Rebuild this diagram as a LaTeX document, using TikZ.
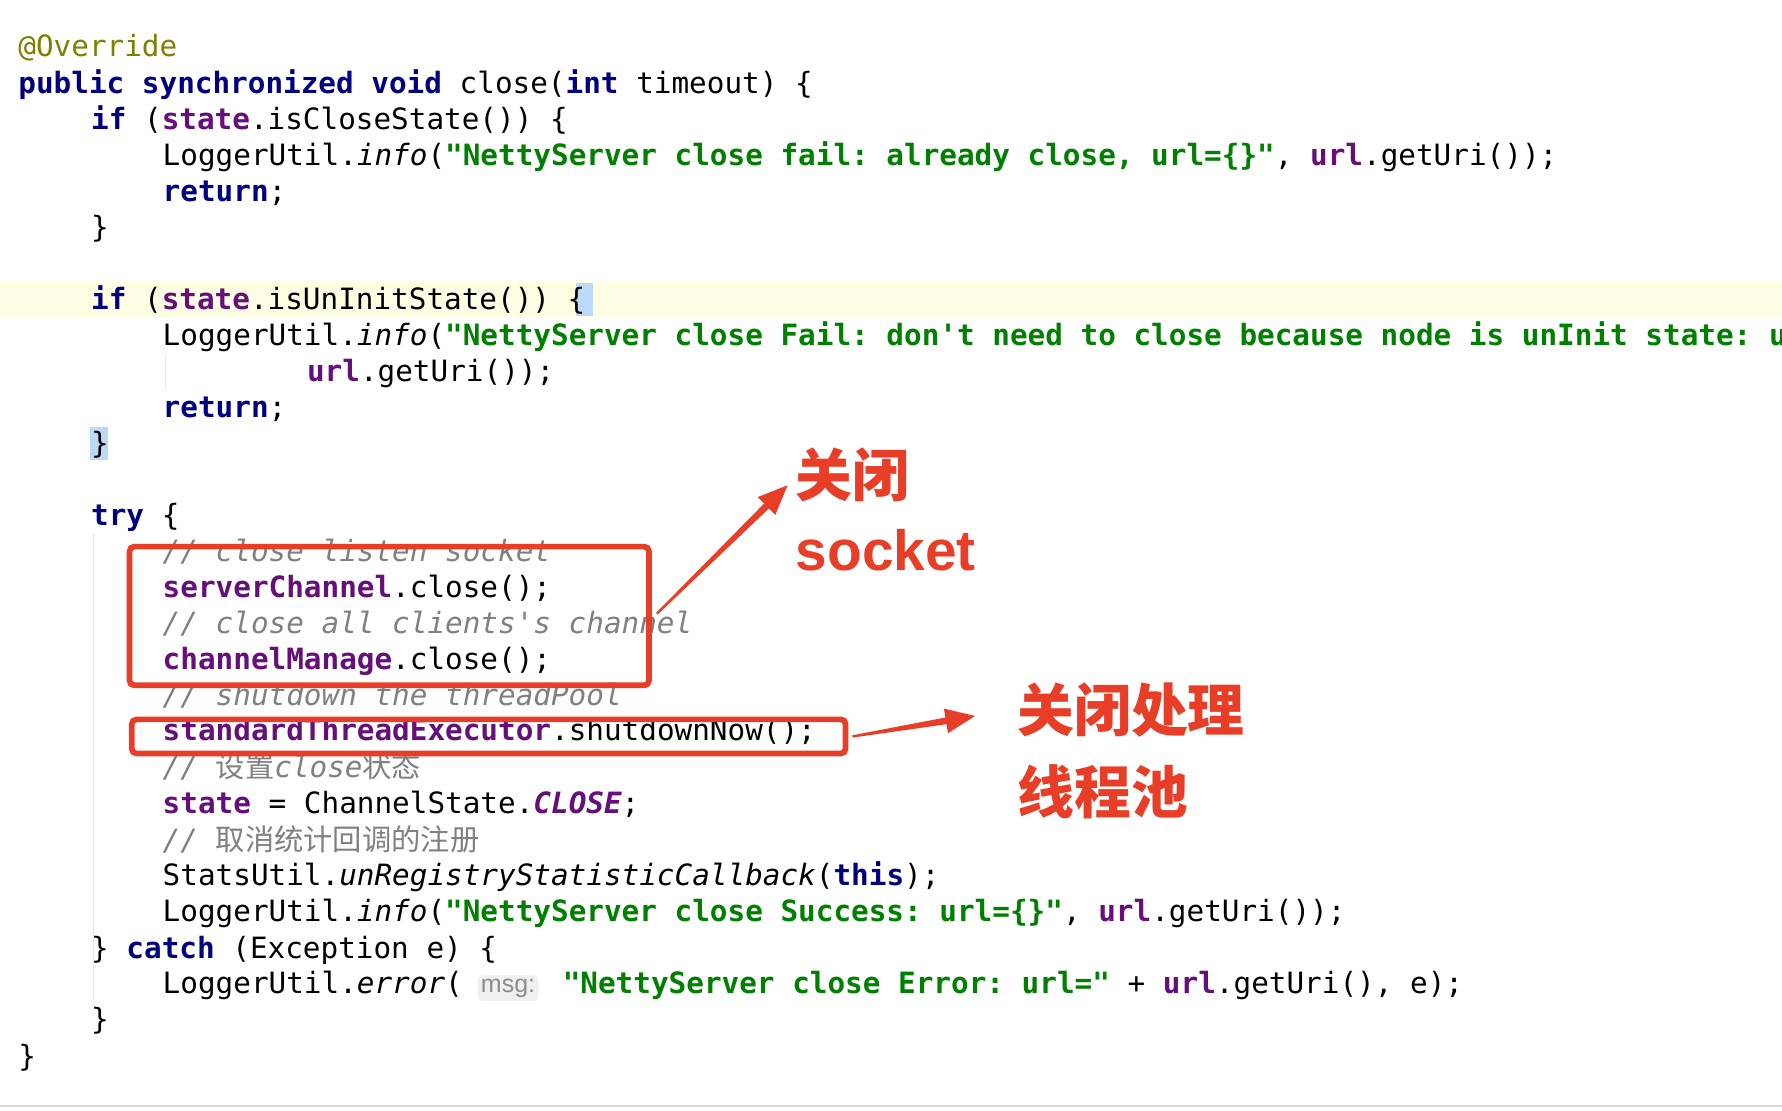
\documentclass[tikz,border=0pt]{standalone}
\usepackage{fontspec}
\setmonofont{DejaVu Sans Mono}
\newfontfamily\cjk{Noto Sans CJK SC}
\newfontfamily\lsans{Liberation Sans}
\usetikzlibrary{calc}
\definecolor{kw}{RGB}{0,0,128}
\definecolor{fld}{RGB}{102,14,122}
\definecolor{str}{RGB}{0,128,0}
\definecolor{cmt}{RGB}{128,128,128}
\definecolor{ann}{RGB}{128,128,0}
\definecolor{redmk}{RGB}{232,62,40}
\definecolor{hl}{RGB}{255,252,228}
\definecolor{brc}{RGB}{188,218,245}
\newcommand{\K}[1]{{\bfseries\color{kw}#1}}
\newcommand{\F}[1]{{\bfseries\color{fld}#1}}
\newcommand{\St}[1]{{\bfseries\color{str}#1}}
\newcommand{\C}[1]{{\itshape\color{cmt}#1}}
\newcommand{\I}[1]{{\itshape #1}}
\tikzset{code/.style={anchor=base west,inner sep=0pt,font=\ttfamily\fontsize{25.8}{30}\selectfont},
 redbox/.style={draw=redmk,line width=5pt,rounded corners=4pt},
 lab/.style={anchor=base west,inner sep=0pt,text=redmk},
 hint/.style={anchor=base west,fill=black!6,rounded corners=4pt,inner sep=3pt,text=black!45,font=\lsans\fontsize{22}{24}\selectfont}}
\begin{document}
\begin{tikzpicture}[x=1pt,y=-1pt]
\useasboundingbox (0,0) rectangle (1568,977);
\clip (0,0) rectangle (1568,977);
\fill[white] (0,0) rectangle (1568,977);
\fill[hl] (0,248) rectangle (1568,279);
\fill[brc] (507,249) rectangle (522,278);
\fill[brc] (79,376) rectangle (95,405);
\draw[black!10,line width=1pt] (82,470) -- (82,880);
\draw[black!10,line width=1pt] (146,312) -- (146,342);
\draw[black!15,line width=1.5pt] (0,973) -- (1568,973);
\def\b{9}
\node[code] (l1) at (16,41+\b) {{\color{ann}@Override}};
\node[code] (l2) at (16,73+\b) {\K{public synchronized void} close(\K{int} timeout) \{};
\node[code] (l3) at (80,105+\b) {\K{if} (\F{state}.isCloseState()) \{};
\node[code] (l4) at (143,137+\b) {LoggerUtil.\I{info}(\St{"NettyServer close fail: already close, url=\{\}"}, \F{url}.getUri());};
\node[code] (l5) at (143,168+\b) {\K{return};};
\node[code] (l6) at (80,200+\b) {\}};
\node[code] (l7) at (80,263+\b) {\K{if} (\F{state}.isUnInitState()) \{};
\node[code] (l8) at (143,295+\b) {LoggerUtil.\I{info}(\St{"NettyServer close Fail: don't need to close because node is unInit state: url=\{\}"},};
\node[code] (l9) at (270,327+\b) {\F{url}.getUri());};
\node[code] (l10) at (143,358+\b) {\K{return};};
\node[code] (l11) at (80,390+\b) {\}};
\node[code] (l12) at (80,453+\b) {\K{try} \{};
\node[code] (l13) at (143,485+\b) {\C{// close listen socket}};
\node[code] (l14) at (143,517+\b) {\F{serverChannel}.close();};
\node[code] (l15) at (143,548+\b) {\C{// close all clients's channel}};
\node[code] (l16) at (143,580+\b) {\F{channelManage}.close();};
\node[code] (l17) at (143,612+\b) {\C{// shutdown the threadPool}};
\node[code] (l18) at (143,643+\b) {\F{standardThreadExecutor}.shutdownNow();};
\node[code] (l19) at (143,675+\b) {\C{// {\cjk\upshape 设置}close{\cjk\upshape 状态}}};
\node[code] (l20) at (143,707+\b) {\F{state} = ChannelState.{\bfseries\itshape\color{fld}CLOSE};};
\node[code] (l21) at (143,739+\b) {\C{// {\cjk\upshape 取消统计回调的注册}}};
\node[code] (l22) at (143,770+\b) {StatsUtil.\I{unRegistryStatisticCallback}(\K{this});};
\node[code] (l23) at (143,802+\b) {LoggerUtil.\I{info}(\St{"NettyServer close Success: url=\{\}"}, \F{url}.getUri());};
\node[code] (l24) at (80,834+\b) {\} \K{catch} (Exception e) \{};
\node[code] (l25a) at (143,865+\b) {LoggerUtil.\I{error}(};
\node[hint] (msg) at (420,865+8) {msg:};
\node[code] (l25b) at (495,865+\b) {\St{"NettyServer close Error: url="} + \F{url}.getUri(), e);};
\node[code] (l26) at (80,897+\b) {\}};
\node[code] (l27) at (16,929+\b) {\}};
% red boxes
\draw[redbox] (114,481) rectangle (571,603);
\draw[redbox] (116,633) rectangle (744,663);
% arrows
\coordinate (a1) at (578,540); \coordinate (b1) at (693,427);
\coordinate (a2) at (750,648); \coordinate (b2) at (858,630);
\foreach \A/\B in {a1/b1,a2/b2}{
 \coordinate (hc) at ($(\B)!26pt!(\A)$);
 \fill[redmk] ($(\A)!1pt!90:(\B)$) -- ($(hc)!3pt!-90:(\A)$) -- ($(hc)!11pt!-90:(\A)$) -- (\B)
   -- ($(hc)!11pt!90:(\A)$) -- ($(hc)!3pt!90:(\A)$) -- ($(\A)!1pt!-90:(\B)$) -- cycle;
}
% labels
\node[lab,font=\cjk\fontsize{50}{56}\selectfont\bfseries] (t1) at (700,437) {关闭};
\node[lab,font=\lsans\fontsize{50}{56}\selectfont\bfseries] (t2) at (700,502) {socket};
\node[lab,font=\cjk\fontsize{50}{56}\selectfont\bfseries] (t3) at (895,644) {关闭处理};
\node[lab,font=\cjk\fontsize{50}{56}\selectfont\bfseries] (t4) at (895,716) {线程池};
\end{tikzpicture}
\end{document}
